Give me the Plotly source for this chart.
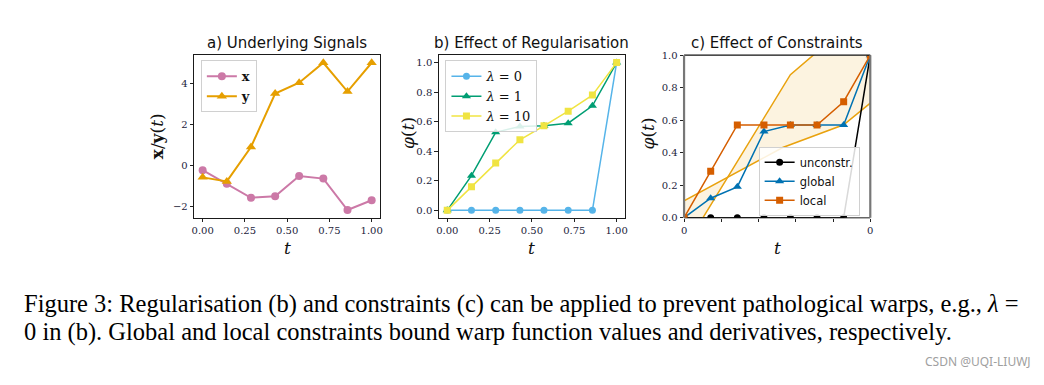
import plotly.graph_objects as go

# ---------------- data ----------------
t = [0.0, 0.143, 0.286, 0.429, 0.571, 0.714, 0.857, 1.0]

sig_x = [-0.24, -0.90, -1.59, -1.52, -0.52, -0.65, -2.19, -1.71]
sig_y = [-0.59, -0.79, 0.90, 3.52, 4.05, 5.03, 3.62, 5.03]

reg_l0 = [0.0, 0.0, 0.0, 0.0, 0.0, 0.0, 0.0, 1.0]
reg_l1 = [0.0, 0.235, 0.528, 0.568, 0.572, 0.59, 0.708, 1.0]
reg_l10 = [0.0, 0.16, 0.32, 0.478, 0.572, 0.671, 0.78, 1.0]

c_unc = [0.0, 0.0, 0.0, 0.0, 0.0, 0.0, 0.0, 1.0]
c_glob = [0.0, 0.12, 0.19, 0.53, 0.57, 0.57, 0.57, 1.0]
c_loc = [0.0, 0.286, 0.571, 0.571, 0.571, 0.571, 0.714, 1.0]

band_upper_t = [0.0, 0.571, 1.0]
band_upper_y = [-0.19, 0.88, 1.30]
band_lower_t = [0.0, 0.53, 0.857, 1.0]
band_lower_y = [0.104, 0.432, 0.572, 0.705]

titles = ["a) Underlying Signals", "b) Effect of Regularisation", "c) Effect of Constraints"]
caption1 = "Figure 3: Regularisation (b) and constraints (c) can be applied to prevent pathological warps, e.g., <i>λ</i> ="
caption2 = "0 in (b). Global and local constraints bound warp function values and derivatives, respectively."
watermark = "CSDN @UQI-LIUWJ"

# ---------------- layout helpers ----------------
W, H = 1044, 385
def px(x):
    return x / W
def py(y):
    return 1 - y / H

TICKFONT = dict(family="DejaVu Serif", size=10, color="#1c1c3a")
SERIF = "DejaVu Serif"
SANS = "DejaVu Sans"

fig = go.Figure()

# panel a
fig.add_trace(go.Scatter(x=t, y=sig_x, mode="lines+markers", name="<b>x</b>",
                         line=dict(color="#CC79A7", width=2), marker=dict(symbol="circle", size=8),
                         xaxis="x", yaxis="y", legend="legend"))
fig.add_trace(go.Scatter(x=t, y=sig_y, mode="lines+markers", name="<b>y</b>",
                         line=dict(color="#E69F00", width=2), marker=dict(symbol="triangle-up", size=9),
                         xaxis="x", yaxis="y", legend="legend"))

# panel b
fig.add_trace(go.Scatter(x=t, y=reg_l0, mode="lines+markers", name="<i>λ</i> = 0",
                         line=dict(color="#56B4E9", width=1.5), marker=dict(symbol="circle", size=7),
                         xaxis="x2", yaxis="y2", legend="legend2"))
fig.add_trace(go.Scatter(x=t, y=reg_l1, mode="lines+markers", name="<i>λ</i> = 1",
                         line=dict(color="#009E73", width=1.5), marker=dict(symbol="triangle-up", size=8),
                         xaxis="x2", yaxis="y2", legend="legend2"))
fig.add_trace(go.Scatter(x=t, y=reg_l10, mode="lines+markers", name="<i>λ</i> = 10",
                         line=dict(color="#F0E442", width=1.5), marker=dict(symbol="square", size=7),
                         xaxis="x2", yaxis="y2", legend="legend2"))

# panel c: global band
fig.add_trace(go.Scatter(x=band_upper_t, y=band_upper_y, mode="lines", showlegend=False,
                         line=dict(color="#E9A20E", width=1.5), xaxis="x3", yaxis="y3", hoverinfo="skip"))
fig.add_trace(go.Scatter(x=band_lower_t, y=band_lower_y, mode="lines", showlegend=False,
                         line=dict(color="#E9A20E", width=1.5), fill="tonexty",
                         fillcolor="rgba(230,159,0,0.12)", xaxis="x3", yaxis="y3", hoverinfo="skip"))
fig.add_trace(go.Scatter(x=t, y=c_unc, mode="lines+markers", name="unconstr.",
                         line=dict(color="black", width=1.5), marker=dict(symbol="circle", size=7),
                         xaxis="x3", yaxis="y3", legend="legend3"))
fig.add_trace(go.Scatter(x=t, y=c_glob, mode="lines+markers", name="global",
                         line=dict(color="#0072B2", width=1.5), marker=dict(symbol="triangle-up", size=8),
                         xaxis="x3", yaxis="y3", legend="legend3"))
fig.add_trace(go.Scatter(x=t, y=c_loc, mode="lines+markers", name="local",
                         line=dict(color="#D55E00", width=1.5), marker=dict(symbol="square", size=7),
                         xaxis="x3", yaxis="y3", legend="legend3"))

# frames (pixel coordinates of plot areas)
frames = [(192.3, 379.3), (438.3, 625.7), (685.0, 872.3)]
top, bottom = 51.7, 219.0
ydom = [py(bottom), py(top)]

def xax(i, **kw):
    d = dict(domain=[px(frames[i][0]), px(frames[i][1])], anchor="y" if i == 0 else "y%d" % (i + 1),
             showgrid=False, zeroline=False, ticks="outside", ticklen=3.5, tickwidth=1,
             tickcolor="#222", tickfont=TICKFONT)
    d.update(kw)
    return d

def yax(i, **kw):
    d = dict(domain=ydom, anchor="x" if i == 0 else "x%d" % (i + 1),
             showgrid=False, zeroline=False, ticks="outside", ticklen=3.5, tickwidth=1,
             tickcolor="#222", tickfont=TICKFONT)
    d.update(kw)
    return d

frame_line = dict(showline=True, mirror=True, linecolor="#1a1a1a", linewidth=1)

fig.update_layout(
    xaxis=xax(0, range=[-0.05, 1.05], tickvals=[0, 0.25, 0.5, 0.75, 1.0],
              ticktext=["0.00", "0.25", "0.50", "0.75", "1.00"], **frame_line),
    yaxis=yax(0, range=[-2.57, 5.40], tickvals=[-2, 0, 2, 4], ticktext=["−2", "0", "2", "4"], **frame_line),
    xaxis2=xax(1, range=[-0.05, 1.05], tickvals=[0, 0.25, 0.5, 0.75, 1.0],
               ticktext=["0.00", "0.25", "0.50", "0.75", "1.00"], **frame_line),
    yaxis2=yax(1, range=[-0.05, 1.05], tickvals=[0, 0.2, 0.4, 0.6, 0.8, 1.0],
               ticktext=["0.0", "0.2", "0.4", "0.6", "0.8", "1.0"], **frame_line),
    xaxis3=xax(2, range=[0, 1], tickvals=[0, 0.2, 0.4, 0.6, 0.8, 1.0],
               ticktext=["0", "", "", "", "", "0"], showline=False),
    yaxis3=yax(2, range=[0, 1], tickvals=[0, 0.2, 0.4, 0.6, 0.8, 1.0],
               ticktext=["0.0", "0.2", "0.4", "0.6", "0.8", "1.0"], showline=False),
)

# spines of panel c drawn as shapes
x0c, x1c = px(frames[2][0]), px(frames[2][1])
fig.add_shape(type="line", xref="paper", yref="paper", x0=x0c, x1=x1c, y0=py(top), y1=py(top),
              line=dict(color="#111", width=1.2))
fig.add_shape(type="line", xref="paper", yref="paper", x0=x0c, x1=x1c, y0=py(bottom), y1=py(bottom),
              line=dict(color="#666", width=1.5), layer="below")
fig.add_shape(type="line", xref="paper", yref="paper", x0=x0c, x1=x0c, y0=py(bottom), y1=py(top),
              line=dict(color="#777", width=2.2))
fig.add_shape(type="line", xref="paper", yref="paper", x0=x1c, x1=x1c, y0=py(bottom), y1=py(top),
              line=dict(color="#777", width=2.2))

legend_common = dict(xanchor="left", yanchor="top", bgcolor="rgba(255,255,255,0.85)",
                     bordercolor="#d0d0d0", borderwidth=1, itemwidth=30, tracegroupgap=0,
                     traceorder="normal")
fig.update_layout(
    legend=dict(x=px(199), y=py(57), font=dict(family=SERIF, size=13, color="#111"), **legend_common),
    legend2=dict(x=px(445), y=py(57), font=dict(family=SERIF, size=13, color="#111"), **legend_common),
    legend3=dict(x=px(760), y=py(146), font=dict(family=SANS, size=11.5, color="#111"),
                 entrywidth=68, entrywidthmode="pixels", **legend_common),
)

ann = []
centers = [(f[0] + f[1]) / 2 for f in frames]
for c, ttl in zip(centers, titles):
    ann.append(dict(text=ttl, x=px(c), y=py(39), xref="paper", yref="paper", showarrow=False,
                    xanchor="center", yanchor="middle", font=dict(family=SANS, size=15, color="#111")))
    ann.append(dict(text="<i>t</i>", x=px(c), y=py(250), xref="paper", yref="paper", showarrow=False,
                    xanchor="center", yanchor="middle", font=dict(family=SERIF, size=17, color="#111")))
ann.append(dict(text="<b>x</b>/<b>y</b>(<i>t</i>)", x=px(155), y=py(135), xref="paper", yref="paper",
                showarrow=False, textangle=-90, xanchor="center", yanchor="middle",
                font=dict(family=SERIF, size=17, color="#111")))
for xc in (408, 649):
    ann.append(dict(text="<i>φ</i>(<i>t</i>)", x=px(xc), y=py(132), xref="paper", yref="paper",
                    showarrow=False, textangle=-90, xanchor="center", yanchor="middle",
                    font=dict(family=SERIF, size=17, color="#111")))
ann.append(dict(text=caption1, x=px(19), y=py(308), xref="paper", yref="paper", showarrow=False,
                xanchor="left", yanchor="middle", font=dict(family="Liberation Serif", size=24.5, color="#000")))
ann.append(dict(text=caption2, x=px(19), y=py(337), xref="paper", yref="paper", showarrow=False,
                xanchor="left", yanchor="middle", font=dict(family="Liberation Serif", size=24.5, color="#000")))
ann.append(dict(text=watermark, x=px(1036), y=py(367), xref="paper", yref="paper", showarrow=False,
                xanchor="right", yanchor="middle", font=dict(family="Noto Sans", size=12, color="#a0a0a0")))

fig.update_layout(annotations=ann, width=W, height=H, margin=dict(l=0, r=0, t=0, b=0),
                  paper_bgcolor="white", plot_bgcolor="white", showlegend=True)

fig.write_html("out.html", config={"displayModeBar": False},
               post_script="document.body.style.margin='0';document.body.style.overflow='hidden';")
